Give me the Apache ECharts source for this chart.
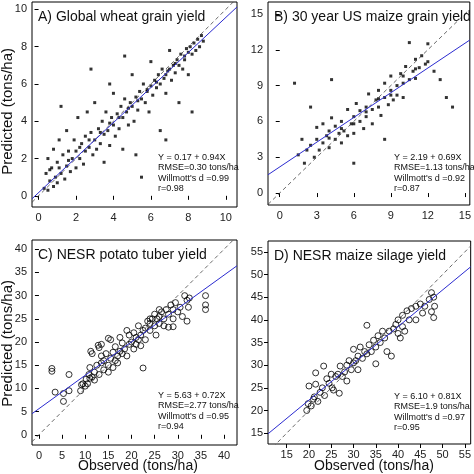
<!DOCTYPE html>
<html><head><meta charset="utf-8">
<script src="https://cdn.jsdelivr.net/npm/echarts@6/dist/echarts.min.js"></script>
<style>html,body{margin:0;padding:0;background:#fff}#c{width:474px;height:474px}</style>
</head><body><div id="c"></div>
<script>
var wheat = [[0.3,0.4],[0.4,1.2],[0.5,0.3],[0.5,2.0],[0.6,0.8],[0.7,1.5],[0.8,0.5],[0.8,2.5],[0.9,1.0],[1.0,1.8],[1.0,0.7],[1.1,3.0],[1.2,1.2],[1.3,2.2],[1.4,0.9],[1.5,1.6],[1.5,3.5],[1.6,2.4],[1.7,1.3],[1.8,2.0],[1.9,3.0],[2.0,1.5],[2.0,2.4],[2.1,4.2],[2.2,2.0],[2.3,2.8],[2.4,1.7],[2.5,3.2],[2.5,2.4],[2.6,4.5],[2.7,2.6],[2.8,3.4],[2.9,2.2],[3.0,3.0],[3.0,5.0],[3.1,2.5],[3.2,3.6],[3.3,2.8],[3.4,4.0],[3.5,3.3],[3.5,1.8],[3.6,4.5],[3.7,3.5],[3.8,2.7],[3.9,4.2],[4.0,3.8],[4.0,5.5],[4.1,3.2],[4.2,4.4],[4.3,3.6],[4.4,4.8],[4.5,4.2],[4.5,2.5],[4.6,5.2],[4.7,4.5],[4.8,3.8],[4.9,5.0],[5.0,4.8],[5.0,6.5],[5.1,4.0],[5.2,5.3],[5.3,4.6],[5.4,5.6],[5.5,5.2],[5.5,1.0],[5.6,6.0],[5.7,5.0],[5.8,5.7],[5.9,4.5],[6.0,5.9],[6.0,7.2],[6.1,5.4],[6.2,6.2],[6.3,5.8],[6.4,6.5],[6.5,6.0],[6.5,3.5],[6.6,6.8],[6.7,6.3],[6.8,5.5],[6.9,6.7],[7.0,6.8],[7.0,7.8],[7.1,6.2],[7.2,7.0],[7.3,6.6],[7.4,7.3],[7.5,7.0],[7.6,7.6],[7.7,6.8],[7.8,7.5],[7.9,7.9],[8.0,7.7],[8.0,6.5],[8.1,8.0],[8.2,7.6],[8.3,8.2],[8.4,7.8],[8.5,8.4],[8.6,8.0],[8.7,8.6],[8.8,8.3],[8.2,4.5],[1.2,4.8],[2.8,6.8],[3.8,6.0],[4.6,7.5],[5.2,2.2],[6.8,3.0],[7.5,5.0],[0.6,1.4],[1.1,1.5],[1.6,1.9],[2.2,2.6],[2.7,3.0],[3.3,3.4],[3.8,3.9],[4.3,4.2],[4.8,4.7],[5.3,5.1],[5.8,5.6],[6.3,6.1],[6.8,6.5],[7.3,7.1],[7.8,7.3]];
var maizeGrain = [[1.5,3.2],[1.8,4.5],[2.0,2.5],[2.2,3.6],[2.5,4.0],[2.8,3.0],[3.0,4.5],[3.0,5.5],[3.2,3.6],[3.5,4.2],[3.5,5.8],[3.8,4.8],[4.0,3.8],[4.0,5.2],[4.2,6.3],[4.5,4.5],[4.5,5.6],[4.8,5.0],[5.0,4.2],[5.0,6.0],[5.2,5.2],[5.5,7.0],[5.5,4.8],[5.8,5.8],[6.0,6.4],[6.0,5.0],[6.2,7.5],[6.5,6.0],[6.5,6.9],[6.8,5.4],[7.0,7.2],[7.0,6.4],[7.2,8.3],[7.5,7.0],[7.5,5.8],[7.8,7.8],[8.0,7.2],[8.0,8.6],[8.2,6.5],[8.5,8.0],[8.5,9.2],[8.8,7.4],[9.0,8.6],[9.0,9.8],[9.2,7.8],[9.5,9.0],[9.5,8.2],[9.8,10.0],[10.0,9.2],[10.0,8.0],[10.2,10.6],[10.5,9.5],[10.8,10.2],[11.0,11.2],[11.0,9.6],[11.3,10.5],[11.5,11.5],[11.8,10.8],[12.0,11.0],[12.5,10.2],[13.0,9.5],[13.5,8.0],[1.2,9.2],[2.5,7.2],[4.2,9.5],[6.0,2.5],[8.5,4.5],[12.0,12.5],[14.0,7.2],[10.5,12.6],[4.0,4.6],[5.0,5.4],[6.0,5.8],[7.0,6.8],[8.0,7.9],[9.0,8.2],[10.0,9.8],[11.0,10.4]];
var potato = [[2.8,14.3],[2.8,13.7],[3.5,9.2],[5.3,8.9],[5.3,7.2],[6.5,13],[6.5,9.5],[9,9.5],[9.2,10.8],[9.5,11],[10,10.5],[10.2,12],[10.5,11],[10.8,13],[11,12.2],[11,14.5],[11.2,18],[11.5,17.5],[11.5,12.5],[12,13.5],[12,11.8],[12.5,15],[12.8,19.3],[13,18.8],[13,13],[13.5,15.5],[13.5,17],[14,14],[14,16],[14.5,17.5],[15,20.8],[15,15],[15,13.5],[15.5,20.5],[15.5,16.5],[16,14.5],[16,17.8],[16.5,16],[16.5,19],[17,17],[17,15.5],[17.5,18],[18,17.5],[18,19.8],[18.5,18.5],[19,17],[19,22.5],[19.5,19.5],[19.5,21.5],[20,20],[20.5,18.5],[20.5,22],[21,21],[21,19.5],[21.5,23.5],[21.5,20.5],[22,21.5],[22,19.2],[22.5,14.4],[22.5,22.5],[23,23],[23,20.5],[23.5,24.5],[24,22.5],[24,24],[24.5,25],[25,26],[25,23.5],[25.3,21.5],[25.5,25],[26,25.5],[26,24],[26.5,26.5],[27,25],[27,23.5],[27.5,27],[28,26],[28,23.2],[28.5,28],[29,27],[29,25],[29,23.3],[29.5,28.5],[30,26.5],[30.5,27.5],[31,25.5],[31.5,30],[32,29],[32,24.5],[32.3,27.5],[32.5,29.5],[36,30],[36,28],[36,27],[17.5,21],[13.5,19.5],[26,27],[24,25]];
var silage = [[19.5,20],[19.8,21.5],[20,25.4],[20.5,21],[21,22.5],[21.2,23],[21.5,25.8],[21.5,28.3],[22,22],[22.5,24],[23,25],[23.3,29.8],[23.5,23.3],[24,27],[24.5,26],[25,28],[25.2,25],[25.5,24.5],[26,27.5],[26.5,28],[26.8,23.8],[27,29.8],[27.5,27.5],[28,28.5],[28.5,30],[28.5,26.5],[29,31],[29.5,29],[30,30.5],[30,33.5],[30.5,31],[31,32],[31,29],[31.5,34],[32,31.5],[32.5,33],[33,32.5],[33,38.8],[33.5,34.5],[34,33],[34.5,35.5],[35,30.3],[35,34],[35.5,36.5],[36,35],[36.5,37.5],[37,36],[37.5,33],[38,37.5],[38.5,32],[39,38],[39.5,39],[40,40],[40,37],[40.5,36],[41,41],[41,38.5],[41.5,37.5],[42,42],[42.5,40],[43,42.5],[44,40],[44,43],[45,43.5],[45.5,41.5],[46,43],[47,44.5],[47.5,46],[47.5,41.8],[48,45],[48,40.5],[48.2,43]];

var titles = ['A) Global wheat grain yield', 'B) 30 year US maize grain yield', 'C) NESR potato tuber yield', 'D) NESR maize silage yield'];
var intercepts = [0.17, 2.19, 5.63, 6.10];
var slopes = [0.94, 0.69, 0.72, 0.81];
var stats = [
  'Y = 0.17 + 0.94X\nRMSE=0.30 tons/ha\nWillmott\'s d =0.99\nr=0.98',
  'Y = 2.19 + 0.69X\nRMSE=1.13 tons/ha\nWillmott\'s d =0.92\nr=0.87',
  'Y = 5.63 + 0.72X\nRMSE=2.77 tons/ha\nWillmott\'s d =0.95\nr=0.94',
  'Y = 6.10 + 0.81X\nRMSE=1.9 tons/ha\nWillmott\'s d =0.97\nr=0.95'
];
var xRanges = [[-0.35, 10.6], [-0.95, 15.4], [-1.5, 42.8], [10.8, 56.3]];
var yRanges = [[-0.6, 10.4], [-1, 16], [-2.2, 42], [12.6, 57.4]];
var intervals = [2, 3, 5, 5];
var grids = [
  {left: 32, top: 2, width: 205, height: 205},
  {left: 268, top: 2, width: 205, height: 203},
  {left: 32, top: 240, width: 205, height: 205},
  {left: 268, top: 241, width: 205, height: 203}
];
var datasets = [wheat, maizeGrain, potato, silage];
var font = 'Liberation Sans, Arial, sans-serif';

var myChart = echarts.init(document.getElementById('c'));
var xAxes = [], yAxes = [], series = [], graphics = [];
function ticks(r, step) {
  var out = [];
  for (var v = Math.ceil(r[0] / step) * step; v <= r[1]; v += step) out.push(v);
  return out;
}
function axis(i, r) {
  var t = ticks(r, intervals[i]);
  return {
    gridIndex: i, type: 'value', min: r[0], max: r[1],
    axisLine: {show: false}, splitLine: {show: false},
    axisTick: {show: true, length: 4, lineStyle: {color: '#000'}, customValues: t},
    axisLabel: {color: '#222', fontSize: 11, fontFamily: font, margin: 5, customValues: t}
  };
}
grids.forEach(function (g, i) {
  g.show = true; g.borderColor = '#000'; g.borderWidth = 1; g.backgroundColor = '#fff';
  xAxes.push(axis(i, xRanges[i]));
  yAxes.push(axis(i, yRanges[i]));
  var open = i >= 2;
  series.push({
    type: 'scatter', xAxisIndex: i, yAxisIndex: i, data: datasets[i],
    symbol: open ? 'circle' : 'rect', symbolSize: open ? 6 : 3,
    itemStyle: open ? {color: 'rgba(0,0,0,0)', borderColor: '#000', borderWidth: 1} : {color: '#000'},
    silent: true
  });
  var x0 = xRanges[i][0], x1 = xRanges[i][1];
  series.push({
    type: 'line', xAxisIndex: i, yAxisIndex: i, symbol: 'none', silent: true,
    data: [[x0, x0], [x1, x1]], lineStyle: {color: '#444', width: 0.8, type: [4, 3]}
  });
  series.push({
    type: 'line', xAxisIndex: i, yAxisIndex: i, symbol: 'none', silent: true,
    data: [[x0, intercepts[i] + slopes[i] * x0], [x1, intercepts[i] + slopes[i] * x1]],
    lineStyle: {color: '#2b2bd0', width: 1}
  });
  graphics.push({type: 'text', left: g.left + 6, top: g.top + 8, z: 100,
    style: {text: titles[i], font: '14px ' + font, fill: '#111'}});
  graphics.push({type: 'text', left: g.left + 126, top: g.top + 150, z: 100,
    style: {text: stats[i], font: '9px ' + font, fill: '#111', lineHeight: 10.5}});
});
graphics.push({type: 'text', left: 0, top: 48, rotation: Math.PI / 2, z: 100,
  style: {text: 'Predicted (tons/ha)', font: '15px ' + font, fill: '#111'}});
graphics.push({type: 'text', left: 0, top: 280, rotation: Math.PI / 2, z: 100,
  style: {text: 'Predicted (tons/ha)', font: '15px ' + font, fill: '#111'}});
graphics.push({type: 'text', left: 78, top: 459, z: 100,
  style: {text: 'Observed (tons/ha)', font: '14px ' + font, fill: '#111'}});
graphics.push({type: 'text', left: 314, top: 459, z: 100,
  style: {text: 'Observed (tons/ha)', font: '14px ' + font, fill: '#111'}});

option = {
  animation: false,
  grid: grids, xAxis: xAxes, yAxis: yAxes, series: series, graphic: graphics
};
myChart.setOption(option);
</script></body></html>
